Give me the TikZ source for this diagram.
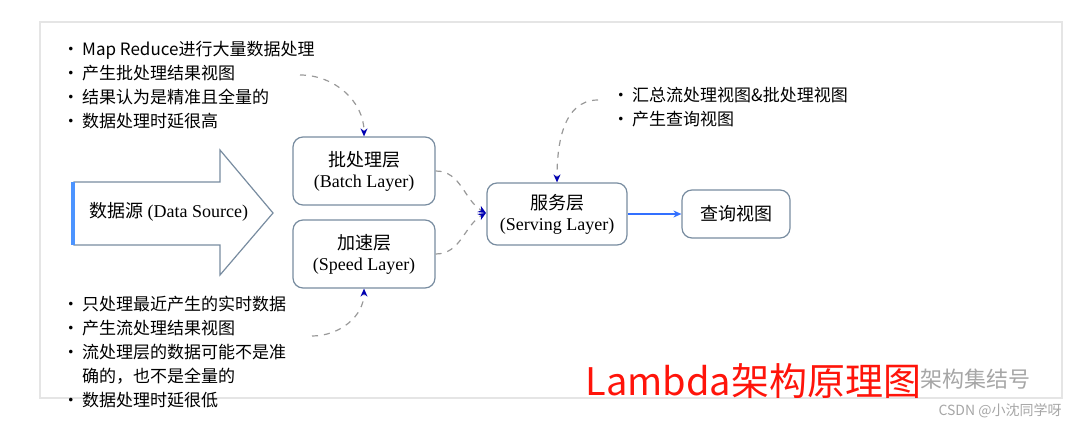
\documentclass[tikz,border=0pt]{standalone}
\usepackage{fontspec}
\setmainfont{Liberation Serif}
\newfontfamily\cjk{Noto Sans CJK SC}
\usetikzlibrary{arrows.meta}
\definecolor{edge}{RGB}{120,140,160}
\begin{document}
\begin{tikzpicture}[x=0.5pt,y=-0.5pt,
 box/.style={draw=edge,rounded corners=5pt,line width=0.6pt,align=center,font=\fontsize{9}{10.5}\selectfont,inner sep=0},
 dashline/.style={draw=gray!80,dashed,line width=0.6pt,-{Stealth[length=4pt,width=3.5pt,fill=blue!70!black,color=blue!70!black]}},
 bul/.style={align=left,anchor=north west,font=\cjk\fontsize{8.5}{12}\selectfont,inner sep=0}]
\useasboundingbox (0,0) rectangle (1080,427);
\draw[gray!20,line width=0.8pt] (40,22) rectangle (1062,398);
% big arrow
\draw[edge,line width=0.6pt,fill=white] (74,182) -- (220,182) -- (220,150) -- (273,213) -- (220,275) -- (220,245) -- (74,245) -- cycle;
\draw[blue!60!cyan!70,line width=1.6pt] (73,182) -- (73,245);
\node[font=\fontsize{9}{10}\selectfont,anchor=west] (src) at (82,212) {{\cjk 数据源} (Data Source)};
% boxes
\node[box,minimum width=71pt,minimum height=34pt] (batch) at (364,171) {{\cjk 批处理层}\\(Batch Layer)};
\node[box,minimum width=71pt,minimum height=34pt] (speed) at (364,254) {{\cjk 加速层}\\(Speed Layer)};
\node[box,minimum width=70pt,minimum height=31pt] (serv) at (557,214) {{\cjk 服务层}\\(Serving Layer)};
\node[box,minimum width=54pt,minimum height=24pt,font=\cjk\fontsize{9}{10}\selectfont] (query) at (736,214) {查询视图};
\coordinate (join) at (486,213);
\draw[dashline] (batch.east) to[out=0,in=150] (join);
\draw[dashline] (speed.east) to[out=0,in=210] (join);
\draw[blue!70!cyan!80,line width=1pt,-{Stealth[length=4pt,width=3.5pt]}] (serv) -- (query);
% texts
\node[bul] (t1) at (62,41) {•\,Map Reduce进行大量数据处理\\•\,产生批处理结果视图\\•\,结果认为是精准且全量的\\•\,数据处理时延很高};
\node[bul] (t2) at (62,296) {•\,只处理最近产生的实时数据\\•\,产生流处理结果视图\\•\,流处理层的数据可能不是准\\\phantom{•}\,确的，也不是全量的\\•\,数据处理时延很低};
\node[bul] (t3) at (612,87) {•\,汇总流处理视图\&批处理视图\\•\,产生查询视图};
\coordinate (a1) at (300,75);
\coordinate (a2) at (312,336);
\coordinate (a3) at (598,100);
\draw[dashline] (a1) to[out=0,in=90] (batch.north);
\draw[dashline] (a2) to[out=0,in=-90] (speed.south);
\draw[dashline] (a3) to[out=180,in=90] (serv.north);
\node[font=\cjk\fontsize{19}{20}\selectfont,text={rgb,255:red,255;green,20;blue,10},anchor=west,inner sep=0] (title) at (585,381) {Lambda架构原理图};
\node[font=\cjk\fontsize{11}{12}\selectfont,text=gray!70,anchor=west,inner sep=0] (wm) at (920,379) {架构集结号};
\node[font=\cjk\fontsize{7}{8}\selectfont,text=gray!70,anchor=east,inner sep=0] (csdn) at (1062,411) {CSDN @小沈同学呀};
\end{tikzpicture}
\end{document}
